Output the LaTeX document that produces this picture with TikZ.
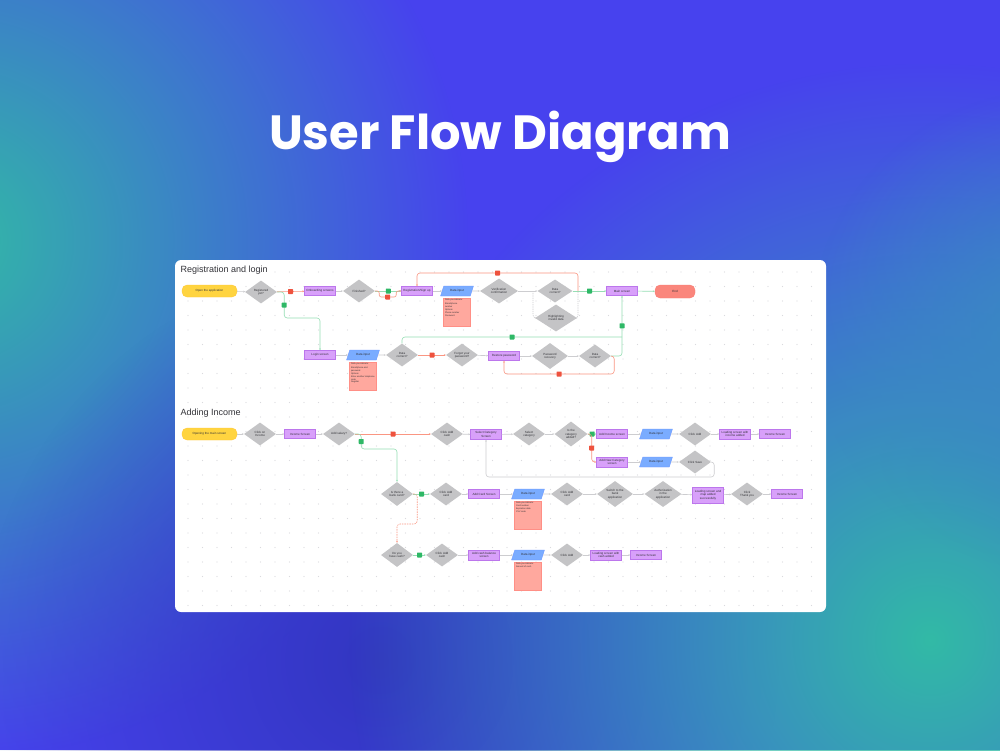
\documentclass[tikz,border=0pt]{standalone}
\usepackage{fontspec}
\setmainfont{Liberation Sans}
\newfontfamily\titlefont{Poppins}
\definecolor{bgindigo}{RGB}{71,66,238}
\definecolor{bgteal}{RGB}{50,186,166}
\definecolor{bgdeep}{RGB}{50,54,192}
\definecolor{dotgray}{RGB}{218,218,222}
\definecolor{flowpurple}{RGB}{216,160,250}
\definecolor{flowedge}{RGB}{188,118,236}
\definecolor{startyellow}{RGB}{255,212,64}
\definecolor{endred}{RGB}{250,134,124}
\definecolor{decgray}{RGB}{196,196,198}
\definecolor{inputblue}{RGB}{122,172,255}
\definecolor{notepink}{RGB}{255,168,158}
\definecolor{okgreen}{RGB}{46,184,102}
\definecolor{oklight}{RGB}{150,222,180}
\definecolor{nored}{RGB}{238,82,62}
\definecolor{nolight}{RGB}{250,150,130}
\definecolor{linkgray}{RGB}{205,205,208}
\definecolor{inkgray}{RGB}{50,50,55}
\usetikzlibrary{positioning, arrows.meta, shapes.geometric, fadings}
\tikzfading[name=softglow, inner color=transparent!0, outer color=transparent!100]
\newcommand{\notetext}[1]{\parbox[t][25pt][t]{24pt}{\raggedright\fontsize{2.2}{2.7}\selectfont #1}}

\begin{document}
\begin{tikzpicture}[
    x=1pt, y=-1pt,
    every node/.style={font=\fontsize{3}{3.4}\selectfont, text=inkgray, inner sep=0.5pt},
    startbox/.style={fill=startyellow, draw=startyellow!85!orange, line width=0.3pt,
      rounded corners=5pt, minimum width=55pt, minimum height=12pt, align=center},
    endbox/.style={fill=endred, draw=endred!90!red, line width=0.3pt,
      rounded corners=5pt, minimum width=40pt, minimum height=13pt, align=center},
    flowbox/.style={fill=flowpurple, draw=flowedge, line width=0.4pt,
      minimum width=31pt, minimum height=9pt, align=center},
    decision/.style={diamond, aspect=1.4, fill=decgray, minimum width=32pt,
      minimum height=23pt, align=center},
    inputbox/.style={trapezium, trapezium left angle=65, trapezium right angle=115,
      trapezium stretches=true, fill=inputblue, draw=inputblue!85!blue, line width=0.3pt,
      minimum width=33pt, minimum height=10pt},
    notebox/.style={fill=notepink, draw=notepink!85!red, line width=0.3pt, inner sep=1.5pt},
    okmark/.style={fill=okgreen, minimum size=5pt, inner sep=0pt, rounded corners=0.6pt},
    nomark/.style={fill=nored, minimum size=5pt, inner sep=0pt, rounded corners=0.6pt},
    link/.style={draw=linkgray, line width=0.6pt, rounded corners=3pt,
      -{Stealth[length=2pt, width=1.8pt]}},
    oklink/.style={link, draw=oklight},
    nolink/.style={link, draw=nolight},
    dashlink/.style={link, dashed, dash pattern=on 1.2pt off 1pt, -},
  ]
  % background
  \begin{scope}
    \clip (0,0) rectangle (1000,750);
    \fill[bgindigo] (0,0) rectangle (1000,750);
    \fill[bgteal, path fading=softglow] (-50,240) circle (520pt);
    \fill[bgdeep, path fading=softglow] (380,660) circle (400pt);
    \fill[bgteal, path fading=softglow] (930,640) circle (580pt);
    \fill[bgteal!60!bgindigo, path fading=softglow] (1050,330) circle (240pt);
  \end{scope}
  \useasboundingbox (0,0) rectangle (1000,750);

  \node[font=\titlefont\bfseries\fontsize{48}{56}\selectfont, text=white] (title) at (500,137) {User Flow Diagram};

  % card and dot grid
  \fill[white, rounded corners=6pt] (175,260) rectangle (826,612);
  \foreach \gx in {0,...,43}
    \foreach \gy in {0,...,23}
      \fill[dotgray] (188+14.5*\gx, 272+14.5*\gy) circle (0.7pt);

  % registration and login
  \node[anchor=west, font=\fontsize{9}{11}\selectfont] (regtitle) at (180,270) {Registration and login};
  \node[startbox] (open) at (209.5,291) {Open the application};
  \node[decision] (reg) at (261,292) {Registered\\yet?};
  \node[flowbox] (onb) at (320,291) {Onboarding screens};
  \node[decision] (skip) at (359,291) {Finished?};
  \node[flowbox] (signup) at (417,291) {Registration/Sign up};
  \node[inputbox] (din1) at (457,291) {Data input};
  \node[notebox, below=1.5pt of din1] (note1) {\notetext{Data you indicate:\\[0.8pt] Email/phone\\ number\\[0.8pt] Options:\\ Phone number\\ Password}};
  \node[decision, minimum width=38pt, minimum height=25pt] (verif) at (499,291) {Verification\\confirmation};
  \node[decision, minimum width=35pt] (dcor1) at (555,291) {Data\\correct?};
  \node[decision, minimum width=42pt, minimum height=27pt] (hinv) at (556,318) {Highlighting\\invalid data};
  \node[flowbox] (main) at (622,291) {Main screen};
  \node[endbox] (finish) at (675,291.5) {End};
  \coordinate (back) at (578,291);
  \coordinate (hsplit) at (533,291);

  \node[flowbox] (login) at (320,355) {Login screen};
  \node[inputbox] (din2) at (363,355) {Data input};
  \node[notebox, below=1.5pt of din2] (note2) {\notetext{Data you indicate:\\[0.8pt] Email/phone and\\ password\\[0.8pt] Options:\\ Enter another telephone\\ code\\ Register}};
  \node[decision] (dcor2) at (402,355) {Data\\correct?};
  \node[decision] (forgot) at (462,355) {Forgot your\\password?};
  \node[flowbox] (restore) at (504,356) {Restore password};
  \node[decision, minimum width=36pt, minimum height=26pt] (precov) at (550,356) {Password\\recovery};
  \node[decision] (dcor3) at (595,356) {Data\\correct?};
  \coordinate (loginup) at (622,356);
  \coordinate (loginmid) at (622,337);

  \draw[link] (open) -- (reg);
  \draw[nolink] (reg) -- node[nomark]{} (onb);
  \draw[oklink] (reg.east) -- ++(7,0) -- node[okmark]{} ++(0,26) -| (login);
  \draw[link] (onb) -- (skip);
  \draw[oklink] (skip) -- node[okmark]{} (signup);
  \draw[nolink, rounded corners=2pt] (skip.east) -- ++(4,0) -- ++(0,6) -- node[nomark]{} ++(17,0) |- (signup.west);
  \draw[link] (signup) -- (din1);
  \draw[link] (din1) -- (verif);
  \draw[link] (verif) -- (dcor1);
  \draw[oklink] (dcor1) -- node[okmark]{} (main);
  \draw[nolink] (back) -- ++(0,-18) -| node[nomark, pos=0.25]{} (signup);
  \draw[dashlink] (hsplit) |- (hinv);
  \draw[dashlink] (hinv) -| (back);
  \draw[oklink] (main) -- (finish);

  \draw[link] (login) -- (din2);
  \draw[link] (din2) -- (dcor2);
  \draw[nolink] (dcor2) -- node[nomark]{} (forgot);
  \draw[link] (forgot) -- (restore);
  \draw[link] (restore) -- (precov);
  \draw[link] (precov) -- (dcor3);
  \draw[oklink] (dcor3) -- (loginup) -- node[okmark]{} (main);
  \draw[oklink, -] (dcor2) |- node[okmark, pos=0.75]{} (loginmid);
  \draw[nolink] (dcor3.east) -- ++(3,0) -- ++(0,18) -| node[nomark, pos=0.25]{} (restore);

  % adding income
  \node[anchor=west, font=\fontsize{9}{11}\selectfont] (inctitle) at (180,413) {Adding Income};
  \node[startbox] (open2) at (209.5,434) {Opening the main screen};
  \node[decision] (clinc) at (260,434) {Click on\\Income};
  \node[flowbox] (incs1) at (300,434) {Income Screen};
  \node[decision] (salary) at (339,434) {Add salary?};
  \node[decision] (cadd1) at (447,434) {Click Add\\cash};
  \node[flowbox, minimum height=10pt] (selcs) at (486,434.5) {Select Category\\Screen};
  \node[decision] (selc) at (529,434) {Select\\category};
  \node[decision, minimum width=33pt, minimum height=25pt] (cadded) at (571,434) {Is the\\category\\added?};
  \node[flowbox] (addinc) at (612,434) {Add Income screen};
  \node[inputbox] (din3) at (656,434) {Data input};
  \node[decision] (cadd2) at (695,434) {Click Add};
  \node[flowbox, minimum height=10pt] (load1) at (735,434) {Loading screen with\\income added};
  \node[flowbox] (incs2) at (775,434) {Income Screen};
  \node[flowbox, minimum height=10pt] (addcat) at (612,462) {Add New Category\\screen};
  \node[inputbox] (din4) at (656,462) {Data input};
  \node[decision] (csave) at (695,462) {Click Save};

  \node[decision, minimum height=24pt] (bank) at (397,494) {Is there a\\bank card?};
  \node[decision] (cadd3) at (446,494) {Click Add\\card};
  \node[flowbox] (addcard) at (484,494) {Add Card Screen};
  \node[inputbox] (din5) at (528,494) {Data input};
  \node[notebox, below=1.5pt of din5] (note3) {\notetext{Data you indicate:\\ Card number\\ Expiration date\\ CVV code}};
  \node[decision] (cadd4) at (567,494) {Click Add\\card};
  \node[decision, minimum width=36pt, minimum height=26pt] (switch) at (615,494) {Switch to the\\bank\\application};
  \node[decision, minimum width=37pt, minimum height=26pt] (auth) at (663,494) {Authorization\\in the\\application};
  \node[flowbox, minimum height=16pt] (load2) at (708,495) {Loading screen and\\map added\\successfully};
  \node[decision] (thank) at (747,494) {Click\\Thank you};
  \node[flowbox] (incs3) at (787,494) {Income Screen};

  \node[decision, minimum height=24pt] (cash) at (397,555) {Do you\\have cash?};
  \node[decision] (cadd5) at (442,555) {Click Add\\cash};
  \node[flowbox, minimum height=10pt] (addcash) at (484,555) {Add cash balance\\screen};
  \node[inputbox] (din6) at (528,555) {Data input};
  \node[notebox, below=1.5pt of din6] (note4) {\notetext{Data you indicate:\\ Amount of cash}};
  \node[decision] (cadd6) at (567,555) {Click Add};
  \node[flowbox, minimum height=10pt] (load3) at (606,555) {Loading screen with\\cash added};
  \node[flowbox] (incs4) at (646,555) {Income Screen};

  \draw[link] (open2) -- (clinc);
  \draw[link] (clinc) -- (incs1);
  \draw[link] (incs1) -- (salary);
  \draw[nolink] (salary) -- node[nomark]{} (cadd1);
  \draw[link] (cadd1) -- (selcs);
  \draw[link] (selcs) -- (selc);
  \draw[link] (selc) -- (cadded);
  \draw[oklink] (cadded) -- node[okmark]{} (addinc);
  \draw[nolink] (cadded.east) -- ++(4,0) |- node[nomark, pos=0.25]{} (addcat);
  \draw[link] (addinc) -- (din3);
  \draw[link] (din3) -- (cadd2);
  \draw[link] (cadd2) -- (load1);
  \draw[link] (load1) -- (incs2);
  \draw[link] (addcat) -- (din4);
  \draw[link] (din4) -- (csave);
  \draw[link] (csave.east) -- ++(3,0) -- ++(0,15) -| (selcs);
  \draw[oklink] (salary.east) -- ++(6,0) -- node[okmark]{} ++(0,15) -| (bank);

  \draw[oklink] (bank) -- node[okmark]{} (cadd3);
  \draw[link] (cadd3) -- (addcard);
  \draw[link] (addcard) -- (din5);
  \draw[link] (din5) -- (cadd4);
  \draw[link] (cadd4) -- (switch);
  \draw[link] (switch) -- (auth);
  \draw[link] (auth) -- (load2);
  \draw[link] (load2) -- (thank);
  \draw[link] (thank) -- (incs3);
  \draw[nolink, dashed, dash pattern=on 1.5pt off 1pt] (bank.east) -- ++(4,0) -- ++(0,30) -| (cash);

  \draw[oklink] (cash) -- node[okmark]{} (cadd5);
  \draw[link] (cadd5) -- (addcash);
  \draw[link] (addcash) -- (din6);
  \draw[link] (din6) -- (cadd6);
  \draw[link] (cadd6) -- (load3);
  \draw[link] (load3) -- (incs4);
\end{tikzpicture}
\end{document}
